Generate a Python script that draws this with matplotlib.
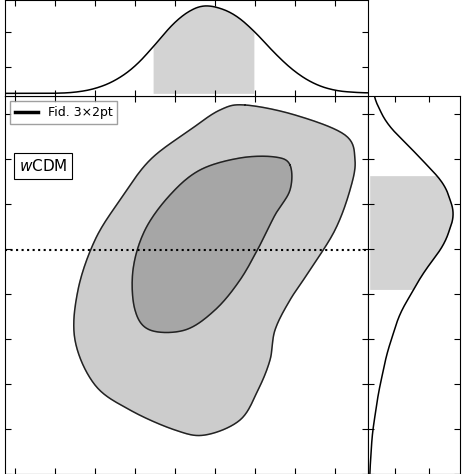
import numpy as np
import matplotlib
matplotlib.use("Agg")
import matplotlib.pyplot as plt

outer_x = [240,290,340,350,345,330,305,285,270,265,253,235,200,170,125,90,70,73,90,115,145,185,215]
outer_y = [369,359,339,314,284,244,204,174,144,114,84,54,39,44,64,89,134,184,234,274,314,344,364]
inner_x = [285,285,270,255,235,210,180,145,130,128,140,165,195,235,270]
inner_y = [309,284,259,229,194,164,144,144,164,204,244,279,304,316,317]
fid_y = 224
top_x = [0,50,70,90,110,130,150,170,190,200,210,230,250,270,290,310,330,350,363]
top_p = [0,0.0,0.01,0.05,0.14,0.3,0.55,0.82,0.98,1.0,0.99,0.9,0.7,0.45,0.24,0.1,0.03,0.01,0.005]
top_band = (147, 249)
right_y = [0,40,80,120,160,200,230,260,290,320,350,378]
right_p = [0,0.03,0.1,0.2,0.35,0.62,0.88,1.0,0.88,0.55,0.2,0.04]
right_band = (184, 299)

def smooth(xs, ys, n=20):
    P = np.column_stack([xs, ys]).astype(float)
    m = len(P); out = []
    for i in range(m):
        p0, p1, p2, p3 = P[i-1], P[i], P[(i+1) % m], P[(i+2) % m]
        for t in np.linspace(0, 1, n, endpoint=False):
            out.append(0.5*((2*p1) + (-p0+p2)*t + (2*p0-5*p1+4*p2-p3)*t**2 + (-p0+3*p1-3*p2+p3)*t**3))
    out = np.array(out)
    return out[:, 0], out[:, 1]

def interp_curve(a, b, n=300):
    a = np.array(a, float); b = np.array(b, float)
    g = np.linspace(a[0], a[-1], n)
    v = np.interp(g, a, b)
    k = 8
    vp = np.pad(v, k, mode='edge')
    v = np.convolve(vp, np.ones(2*k+1)/(2*k+1), mode='valid')
    return g, v

fig = plt.figure(figsize=(4.74, 4.74), dpi=100)
W = 474
ax = fig.add_axes([5/W, 0, 363/W, 378/W])
axt = fig.add_axes([5/W, 378/W, 363/W, 96/W])
axr = fig.add_axes([368/W, 0, 92/W, 378/W])

ox, oy = smooth(outer_x, outer_y)
ix, iy = smooth(inner_x, inner_y)
ax.fill(ox, oy, color='#cccccc', zorder=1)
ax.plot(np.append(ox, ox[0]), np.append(oy, oy[0]), color='#222222', lw=1.1, zorder=2)
ax.fill(ix, iy, color='#a6a6a6', zorder=3)
ax.plot(np.append(ix, ix[0]), np.append(iy, iy[0]), color='#222222', lw=1.1, zorder=4)
ax.axhline(fid_y, color='k', ls=':', lw=1.5, zorder=5)
ax.set_xlim(0, 363); ax.set_ylim(0, 378)
ax.plot([], [], color='k', lw=2.5, label='Fid. 3×2pt')
ax.legend(loc='upper left', fontsize=9, frameon=True, fancybox=False, edgecolor='#888888',
          handlelength=1.8, borderaxespad=0.4)
ax.text(14, 308, '$w$CDM', fontsize=11, va='center',
        bbox=dict(boxstyle='square,pad=0.3', fc='white', ec='k', lw=0.8))

gx, gv = interp_curve(top_x, top_p)
axt.plot(gx, gv, color='k', lw=1.1)
mask = (gx >= top_band[0]) & (gx <= top_band[1])
axt.fill_between(gx[mask], 0, gv[mask], color='#d3d3d3', lw=0)
axt.set_xlim(0, 363); axt.set_ylim(-0.03, 1.06)

gy, gw = interp_curve(right_y, right_p)
axr.plot(gw, gy, color='k', lw=1.1)
mask = (gy >= right_band[0]) & (gy <= right_band[1])
axr.fill_betweenx(gy[mask], 0, gw[mask], color='#d3d3d3', lw=0)
axr.set_ylim(0, 378); axr.set_xlim(-0.02, 1.06)

for a in (ax, axt, axr):
    a.tick_params(direction='in', top=True, right=True, labelbottom=False, labelleft=False,
                  length=4, width=0.8)
    for s in a.spines.values():
        s.set_linewidth(0.8)
ax.set_xticks(np.arange(10, 363, 40)); ax.set_yticks(np.arange(0, 378, 45))
axt.set_xticks(np.arange(10, 363, 40)); axt.set_yticks([0.3, 0.7])
axr.set_yticks(np.arange(0, 378, 45)); axr.set_xticks([0.3, 0.7])
fig.savefig('out.png', dpi=100)
